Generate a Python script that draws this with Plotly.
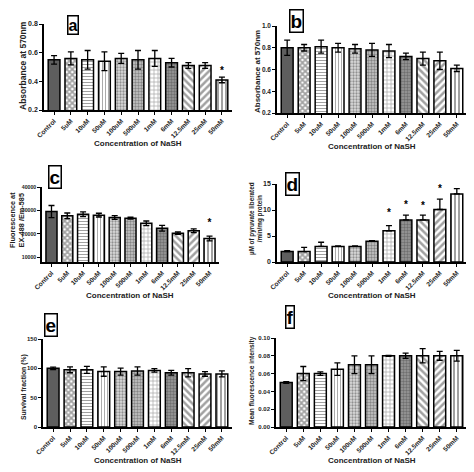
import plotly.graph_objects as go

cats = ["Control", "5uM", "10uM", "50uM", "100uM", "500uM", "1mM", "6mM", "12.5mM", "25mM", "50mM"]

a_mean = [0.55, 0.56, 0.55, 0.54, 0.56, 0.55, 0.56, 0.53, 0.51, 0.51, 0.41]
a_err = [0.03, 0.045, 0.065, 0.065, 0.035, 0.065, 0.055, 0.03, 0.02, 0.02, 0.02]
b_mean = [0.80, 0.80, 0.81, 0.80, 0.79, 0.78, 0.77, 0.72, 0.70, 0.68, 0.61]
b_err = [0.07, 0.03, 0.06, 0.04, 0.04, 0.06, 0.06, 0.03, 0.06, 0.08, 0.03]
c_mean = [29500, 27700, 28400, 28000, 27000, 26700, 24500, 22400, 20300, 21300, 18000]
c_err = [2600, 1200, 1000, 800, 800, 400, 1000, 1200, 500, 800, 1000]
d_mean = [2.0, 2.0, 3.0, 3.0, 3.0, 4.0, 6.0, 8.1, 8.1, 10.1, 13.1]
d_err = [0.2, 0.8, 0.8, 0.1, 0.1, 0.1, 1.0, 0.9, 0.9, 2.0, 1.0]
e_mean = [100, 97.5, 97.5, 94.5, 94.5, 95.5, 96.5, 92.5, 92.5, 90.5, 90.5]
e_err = [2, 5, 6, 8, 6, 7, 3, 4, 7, 4, 5]
f_mean = [0.050, 0.060, 0.060, 0.065, 0.070, 0.070, 0.080, 0.080, 0.080, 0.080, 0.080]
f_err = [0.001, 0.008, 0.002, 0.007, 0.010, 0.010, 0.0005, 0.003, 0.008, 0.005, 0.006]

# significance stars (category, height)
a_star = (["50mM"], [0.47])
c_star = (["50mM"], [24600])
d_star = (["1mM", "6mM", "12.5mM", "25mM", "50mM"], [9.4, 10.8, 10.6, 14.0, 15.8])

# bar fill styles, one per concentration
shapes = ["", "x", "-", "|", ".", ".", "+", ".", "\\", "/", "|"]
fg = ["#5e5e5e", "#111", "#111", "#8a8a8a", "#7a7a7a", "#6a6a6a", "#333", "#333", "#111", "#111", "#555"]
bg = ["#5e5e5e", "white", "white", "white", "#dcdcdc", "#c8c8c8", "white", "#9a9a9a", "white", "white", "white"]
psize = [4, 4, 3, 3, 3, 3, 4, 3, 5, 5, 4]
psol = [0.5, 0.7, 0.35, 0.3, 0.45, 0.5, 0.3, 0.5, 0.5, 0.5, 0.5]

OFF = 8  # page body margin
W, H = 474 - OFF, 472 - OFF
F = "Arial, Liberation Sans, sans-serif"


def px(x):
    return (x - OFF) / W


def py(y):
    return 1 - (y - OFF) / H


# key, means, errors, upper-only, x px, y px, range, dtick, format, tick size,
# y title, title size, title pos, stars, label pos, label size, axes
panels = [
    ("a", a_mean, a_err, False, (44, 232), (24, 110), [0.2, 0.8], 0.2, ".1f", 7,
     "Absorbance at 570nm", 8.5, (23, 66), a_star, (73, 25), 16, "x", "y"),
    ("b", b_mean, b_err, False, (277, 467), (26, 113), [0.2, 1.0], 0.2, ".1f", 6.5,
     "Absorbance at 570nm", 8, (257, 72), None, (296, 21), 19, "x2", "y2"),
    ("c", c_mean, c_err, False, (42, 219), (187, 262), [8000, 40000], 10000, "d", 5.2,
     "Fluorescence at<br>EX-488 /Em-585", 7.3, (17, 220), c_star, (55, 177), 19, "x3", "y3"),
    ("d", d_mean, d_err, True, (277, 467), (184, 262), [0, 15], 5, "d", 7,
     "µM of pyruvate liberated<br>/min/mg protein", 6.3, (256, 219), d_star, (292, 184), 19, "x4", "y4"),
    ("e", e_mean, e_err, False, (43, 232), (339, 427), [0, 150], 50, "d", 6,
     "Survival fraction (%)", 6.8, (24, 387), None, (51, 325), 19, "x5", "y5"),
    ("f", f_mean, f_err, False, (276, 467), (338, 427), [0, 0.1], 0.02, ".2f", 6,
     "Mean fluorescence intensity", 6.6, (252, 381), None, (290, 317), 19, "x6", "y6"),
]

fig = go.Figure()
annos = []
for (key, vals, errs, up, xp, yp, yr, dt, fmt, tsz, ytitle, ysz, tpos, star, lab, lsz, xa, ya) in panels:
    err = dict(type="data", array=errs, color="black", thickness=1.3, width=3)
    if up:
        err["symmetric"] = False
        err["arrayminus"] = [0] * len(errs)
    fig.add_trace(go.Bar(
        x=cats, y=vals, xaxis=xa, yaxis=ya, width=0.7, error_y=err,
        marker=dict(color=bg, line=dict(color="black", width=1.5),
                    pattern=dict(shape=shapes, fgcolor=fg, bgcolor=bg, size=psize,
                                 solidity=psol, fillmode="overlay")),
        showlegend=False))
    if star:
        fig.add_trace(go.Scatter(
            x=star[0], y=star[1], xaxis=xa, yaxis=ya, mode="text", text=["*"] * len(star[0]),
            textfont=dict(family=F, size=10, color="black", weight="bold"),
            cliponaxis=False, showlegend=False))
    n = xa[1:]
    fig.layout["xaxis" + n] = dict(
        domain=[px(xp[0]), px(xp[1])], range=[-0.6, 10.6], anchor=ya, automargin=False,
        showline=True, linecolor="black", linewidth=1.5, ticks="outside", ticklen=3,
        tickcolor="black", tickangle=-45, tickfont=dict(family=F, size=6.6, color="#222", weight="bold"),
        showgrid=False, fixedrange=True)
    fig.layout["yaxis" + n] = dict(
        domain=[py(yp[1]), py(yp[0])], range=yr, anchor=xa, dtick=dt, tick0=0, tickformat=fmt,
        automargin=False, showline=True, linecolor="black", linewidth=1.5, ticks="outside", ticklen=3,
        tickcolor="black", tickfont=dict(family=F, size=tsz, color="#222", weight="bold"),
        showgrid=False, zeroline=False)
    common = dict(xref="paper", yref="paper", showarrow=False, xanchor="center", yanchor="middle")
    annos.append(dict(
        text=ytitle, x=px(tpos[0]), y=py(tpos[1]), textangle=-90,
        font=dict(family=F, size=ysz, color="#222", weight="bold"), **common))
    annos.append(dict(
        text="Concentration of NaSH", x=px((xp[0] + xp[1]) / 2), y=py(yp[1] + 33),
        font=dict(family=F, size=8, color="#222", weight="bold"), **common))
    annos.append(dict(
        text=key, x=px(lab[0]), y=py(lab[1]),
        font=dict(family=F, size=lsz, color="black", weight="bold"),
        bordercolor="black", borderwidth=1.5, borderpad=0, bgcolor="white", **common))

fig.update_layout(template="none", width=W, height=H, margin=dict(l=0, r=0, t=0, b=0),
                  paper_bgcolor="white", plot_bgcolor="white", bargap=0.3,
                  annotations=annos)
fig.write_html("out.html")
